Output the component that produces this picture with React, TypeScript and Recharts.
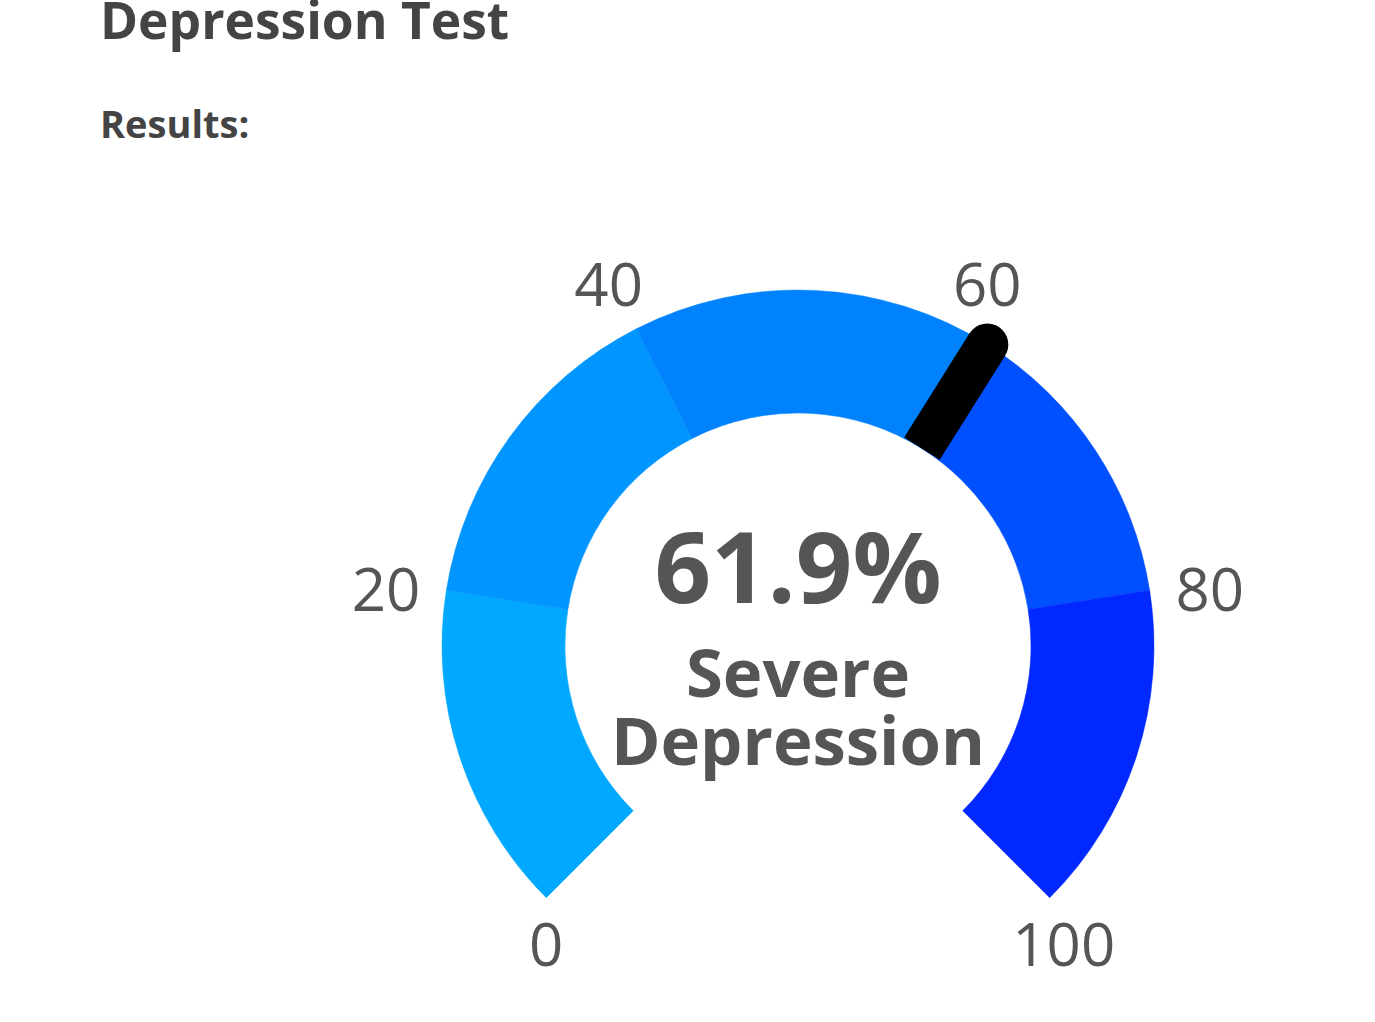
import { Cell, Customized, Pie, PieChart } from "recharts";

// severity bands (the 3rd/4th colour change sits under the needle)
const bandNames = ["Minimal", "Mild", "Moderate", "Moderately Severe", "Severe"];
const bandSizes = [20, 20, 22, 18, 20];
const bandColors = ["#00a8ff", "#0095ff", "#0082ff", "#0050ff", "#0028ff"];
const tickValues = [0, 20, 40, 60, 80, 100];
const score = 61.9;
const resultLines = ["Severe", "Depression"];

const W = 1375;
const H = 1022;
const CX = 798;
const CY = 646;
const INNER_R = 233;
const OUTER_R = 356;
const START = 225;
const END = -45;
const MAX = 100;
const FONT = "'Open Sans', sans-serif";
const TEXT = "#555555";

const bands = bandNames.map((name, i) => ({ name, value: bandSizes[i] }));
const needleData = [
  { name: "score", value: score },
  { name: "rest", value: MAX - score },
];

const angleOf = (v: number) => START - (v / MAX) * (START - END);
const polar = (r: number, deg: number) => {
  const rad = (deg * Math.PI) / 180;
  return { x: CX + r * Math.cos(rad), y: CY - r * Math.sin(rad) };
};

function TickLabels() {
  const size = 60;
  return (
    <g>
      {tickValues.map((v) => {
        const a = angleOf(v);
        const rad = (a * Math.PI) / 180;
        const cos = Math.cos(rad);
        const sin = Math.sin(rad);
        // labels under the centre hang below the ends of the arc
        const below = sin < -0.5;
        let x: number;
        let cy: number;
        if (below) {
          const p = polar(OUTER_R, a);
          x = p.x + Math.sign(cos) * (String(v).length - 1) * 7;
          cy = p.y + 47;
        } else {
          x = CX + 417 * cos;
          cy = CY - 410 * sin + 8 * Math.abs(cos);
        }
        return (
          <text
            key={v}
            x={x}
            y={cy + size * 0.357}
            textAnchor="middle"
            fontSize={size}
            fontFamily={FONT}
            fill={TEXT}
          >
            {v}
          </text>
        );
      })}
    </g>
  );
}

interface NeedleProps {
  index?: number;
  cx?: number;
  cy?: number;
  endAngle?: number;
  percent?: number;
  innerRadius?: number;
  outerRadius?: number;
}

function renderNeedle(props: NeedleProps) {
  if (props.index !== 0) return <g />;
  const cx = props.cx ?? CX;
  const cy = props.cy ?? CY;
  const a = props.endAngle ?? START - (props.percent ?? 0) * (START - END);
  const r0 = props.innerRadius ?? INNER_R;
  const r1 = props.outerRadius ?? OUTER_R;
  const rad = (a * Math.PI) / 180;
  const half = 21;
  const nx = Math.sin(rad) * half;
  const ny = Math.cos(rad) * half;
  const x0 = cx + r0 * Math.cos(rad);
  const y0 = cy - r0 * Math.sin(rad);
  const x1 = cx + r1 * Math.cos(rad);
  const y1 = cy - r1 * Math.sin(rad);
  const d = `M${x0 - nx},${y0 - ny} L${x1 - nx},${y1 - ny} L${x1 + nx},${y1 + ny} L${x0 + nx},${y0 + ny} Z`;
  return (
    <g>
      <path d={d} fill="#000000" />
      <circle cx={x1} cy={y1} r={half} fill="#000000" />
    </g>
  );
}

function CenterText() {
  return (
    <g fontFamily={FONT} fontWeight={700} fill={TEXT} textAnchor="middle">
      <text x={CX} y={603} fontSize={99}>
        {score.toFixed(1)}%
      </text>
      {resultLines.map((line, i) => (
        <text key={line} x={CX} y={697 + i * 68} fontSize={67}>
          {line}
        </text>
      ))}
    </g>
  );
}

export default function App() {
  return (
    <div style={{ position: "absolute", left: 0, top: 0, width: W, height: H, background: "#fff" }}>
      <div
        style={{
          position: "absolute",
          left: 100,
          top: -6,
          fontFamily: FONT,
          fontWeight: 700,
          fontSize: 51.5,
          lineHeight: 1,
          color: "#444444",
          whiteSpace: "nowrap",
        }}
      >
        Depression Test
      </div>
      <div
        style={{
          position: "absolute",
          left: 100,
          top: 104,
          fontFamily: FONT,
          fontWeight: 700,
          fontSize: 38,
          lineHeight: 1,
          color: "#444444",
          whiteSpace: "nowrap",
        }}
      >
        Results:
      </div>
      <div style={{ position: "absolute", left: 0, top: 0 }}>
        <PieChart width={W} height={H} margin={{ top: 0, right: 0, bottom: 0, left: 0 }}>
          <Pie
            data={bands}
            dataKey="value"
            nameKey="name"
            cx={CX}
            cy={CY}
            innerRadius={INNER_R}
            outerRadius={OUTER_R}
            startAngle={START}
            endAngle={END}
            paddingAngle={0}
            stroke="none"
            isAnimationActive={false}
          >
            {bands.map((b, i) => (
              <Cell key={b.name} fill={bandColors[i]} stroke={bandColors[i]} strokeWidth={0.5} />
            ))}
          </Pie>
          <Pie
            data={needleData}
            dataKey="value"
            nameKey="name"
            cx={CX}
            cy={CY}
            innerRadius={INNER_R}
            outerRadius={OUTER_R}
            startAngle={START}
            endAngle={END}
            fill="transparent"
            stroke="none"
            label={renderNeedle}
            labelLine={false}
            isAnimationActive={false}
          />
          <Customized component={<TickLabels />} />
          <Customized component={<CenterText />} />
        </PieChart>
      </div>
    </div>
  );
}
